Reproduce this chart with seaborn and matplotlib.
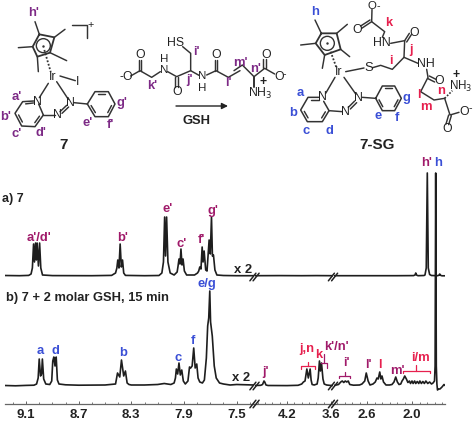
import numpy as np
import pandas as pd
import matplotlib
matplotlib.use("Agg")
import matplotlib.pyplot as plt
from matplotlib.ticker import FixedLocator, MultipleLocator, FixedFormatter
from matplotlib.patches import Circle
import seaborn as sns

sns.set_theme(style="white")
plt.rcParams["font.family"] = ["Liberation Sans", "DejaVu Sans"]

# ---------------- spectrum a) 7 : (ppm, intensity)
a1_ppm = [9.26, 9.15, 9.08, 9.062, 9.052, 9.043, 9.036, 9.028, 9.022, 9.016, 9.006, 8.997, 8.988, 8.975, 8.9, 8.6, 8.45, 8.42, 8.41, 8.403, 8.394, 8.385, 8.376, 8.367, 8.358, 8.345, 8.2, 8.09, 8.068, 8.056, 8.047, 8.04, 8.032, 8.022, 8.005, 7.975, 7.952, 7.945, 7.938, 7.93, 7.923, 7.915, 7.907, 7.897, 7.88, 7.82, 7.797, 7.788, 7.78, 7.771, 7.762, 7.755, 7.747, 7.735, 7.725, 7.709, 7.7, 7.691, 7.684, 7.676, 7.665, 7.65, 7.6, 7.5, 7.368]
a1_int = [0.5, 0.3, 0.6, 2, 8, 32, 14, 33, 16, 33, 10, 33, 8, 1, 0.4, 0.3, 0.6, 3, 8, 16, 8, 32, 9, 16, 3, 0.6, 0.3, 0.5, 3, 14, 59, 20, 59, 14, 3, 1, 4, 10, 17, 12, 27, 11, 17, 5, 1, 1, 3, 5, 9, 7, 29, 14, 25, 6, 5, 36, 22, 59, 20, 21, 6, 1, 0.5, 0.3, 0.3]
a2_ppm = [4.64, 4.3, 4.0, 3.8, 3.573]
a2_int = [0.3, 0.4, 0.3, 0.4, 0.3]
a3_ppm = [3.04, 2.6, 2.2, 1.98, 1.96, 1.95, 1.94, 1.92, 1.84, 1.827, 1.81, 1.796, 1.783, 1.765, 1.74, 1.66, 1.64, 1.63, 1.62, 1.6, 1.56]
a3_int = [0.3, 0.3, 0.3, 0.4, 1, 3, 1, 0.3, 0.5, 1, 8, 103, 8, 1.5, 0.5, 0.3, 0.8, 2, 0.7, 0.2, 0.2]

# ---------------- spectrum b) 7 + 2 molar GSH : (ppm, intensity)
b1_ppm = [9.26, 9.18, 9.1, 9.04, 9.02, 9.008, 9.0, 8.99, 8.982, 8.976, 8.966, 8.95, 8.92, 8.905, 8.897, 8.889, 8.88, 8.871, 8.862, 8.85, 8.8, 8.7, 8.5, 8.42, 8.405, 8.388, 8.375, 8.358, 8.345, 8.332, 8.318, 8.3, 8.2, 8.1, 8.05, 8.0, 7.975, 7.965, 7.958, 7.948, 7.938, 7.928, 7.917, 7.905, 7.89, 7.87, 7.858, 7.849, 7.838, 7.826, 7.815, 7.803, 7.793, 7.78, 7.76, 7.745, 7.73, 7.72, 7.712, 7.704, 7.698, 7.685, 7.67, 7.655, 7.63, 7.6, 7.55, 7.5, 7.368]
b1_int = [0.5, 0.2, 0.6, 0.8, 2, 8, 27, 10, 12, 27, 7, 2, 1.5, 5, 25, 29, 20, 29, 6, 2, 1.2, 0.8, 1, 2, 13, 9, 26, 10, 15, 3, 1.5, 1, 1, 1.5, 2.5, 1.5, 3, 8, 17, 12, 23, 11, 16, 5, 2, 5, 19, 18, 20, 38, 18, 22, 8, 4, 3, 6, 28, 60, 68, 95, 64, 50, 20, 8, 3, 2, 1, 1.5, 1]
b2_ppm = [4.64, 4.56, 4.535, 4.515, 4.505, 4.488, 4.46, 4.2, 4.05, 4.0, 3.977, 3.955, 3.93, 3.91, 3.885, 3.872, 3.858, 3.83, 3.79, 3.775, 3.758, 3.745, 3.73, 3.71, 3.693, 3.66, 3.6, 3.573]
b2_int = [0.5, 0.7, 1.5, 5, 4, 1, 0.5, 0.4, 0.7, 2, 4, 5, 17, 8, 17, 6, 1.5, 1, 2, 8, 25, 15, 23, 7, 2, 1, 0.5, 0.5]
b3_ppm = [3.04, 2.98, 2.95, 2.93, 2.91, 2.89, 2.87, 2.85, 2.83, 2.78, 2.7, 2.667, 2.63, 2.61, 2.585, 2.56, 2.52, 2.49, 2.467, 2.45, 2.43, 2.415, 2.40, 2.38, 2.347, 2.3, 2.267, 2.24, 2.217, 2.195, 2.173, 2.15, 2.133, 2.115, 2.097, 2.075, 2.055, 2.035, 2.02, 2.0, 1.985, 1.965, 1.95, 1.93, 1.91, 1.895, 1.875, 1.855, 1.835, 1.815, 1.79, 1.765, 1.74, 1.72, 1.70, 1.692, 1.684, 1.676, 1.668, 1.66, 1.645, 1.627, 1.6, 1.573, 1.56]
b3_int = [0.5, 1.5, 4, 5, 3.5, 5, 4, 5, 1.5, 0.8, 1, 2, 5, 13, 5, 1, 2, 4, 8, 7, 14, 7, 10, 4, 1, 1, 1.5, 4, 9, 4, 1.5, 2, 5, 7, 10, 7, 3.5, 5, 2.5, 5, 2.5, 5, 2.5, 4.5, 2.5, 5, 2.5, 4.5, 2.5, 5, 2.5, 4, 2, 3, 5, 20, 213, 20, 2, -4, -3, -3, -1, 1.5, 0.5]

a_offset = 110
segments = [
    (a1_ppm, a1_int, b1_ppm, b1_int, (5, 254), (9.26, 7.368)),
    (a2_ppm, a2_int, b2_ppm, b2_int, (255, 333), (4.638, 3.573)),
    (a3_ppm, a3_int, b3_ppm, b3_int, (334, 445), (3.04, 1.56)),
]
major_ticks = [[9.1, 8.7, 8.3, 7.9, 7.5], [4.2, 3.6], [2.6, 2.0]]
major_labels = [["9.1", "8.7", "8.3", "7.9", "7.5"], ["4.2", "3.6"], ["2.6", "2.0"]]

W, H = 474, 421
fig = plt.figure(figsize=(W / 100, H / 100), dpi=100, facecolor="white")
BASE = 404
TOP = 170
INK = "#1e1e1e"

for (ax_, ai_, bx_, bi_, (x0, x1), xl), mt, ml in zip(segments, major_ticks, major_labels):
    ax = fig.add_axes([x0 / W, 1 - BASE / H, (x1 - x0) / W, (BASE - TOP) / H])
    ax.patch.set_alpha(0)
    dfa = pd.DataFrame({"ppm": ax_, "i": np.array(ai_) + a_offset + 18})
    dfb = pd.DataFrame({"ppm": bx_, "i": np.array(bi_) + 18})
    for df in (dfa, dfb):
        sns.lineplot(data=df, x="ppm", y="i", ax=ax, color=INK, lw=1.2,
                     estimator=None, sort=False, legend=False)
    ax.set_xlim(*xl)
    ax.set_ylim(0, BASE - TOP)
    ax.set_xlabel("")
    ax.set_ylabel("")
    ax.set_yticks([])
    for s in ("top", "left", "right"):
        ax.spines[s].set_visible(False)
    ax.spines["bottom"].set_color("#666666")
    ax.spines["bottom"].set_linewidth(0.9)
    ax.xaxis.set_major_locator(FixedLocator(mt))
    ax.xaxis.set_major_formatter(FixedFormatter(ml))
    ax.xaxis.set_minor_locator(MultipleLocator(0.1))
    ax.tick_params(axis="x", which="major", direction="in", length=2.5, width=0.7,
                   color="#666666", pad=3.5, labelsize=9.5, labelcolor="#222222", bottom=True)
    ax.tick_params(axis="x", which="minor", direction="in", length=1.5, width=0.6,
                   color="#666666", bottom=True)
    for t in ax.get_xticklabels():
        t.set_fontweight("bold")

# ---------------- overlay: chemical structures and annotations
ov = fig.add_axes([0, 0, 1, 1], zorder=5)
ov.set_xlim(0, W)
ov.set_ylim(H, 0)
ov.axis("off")
ov.patch.set_alpha(0)

PUR = "#7d2a86"
MAG = "#a01a6a"
BLU = "#3a4fd6"
RED = "#e6204e"
BLK = "#222222"
GRY = "#333333"


def L(pts, c=GRY, lw=1.05, **k):
    xs, ys = zip(*pts)
    ov.plot(xs, ys, color=c, lw=lw, solid_capstyle="round", **k)


def T(x, y, s, c=BLK, size=8, w="normal"):
    ov.text(x, y, s, color=c, fontsize=size * 1.1, fontweight=w, ha="center", va="center")


def A(ox, oy, pts):
    return [(ox + p[0] / 3, oy + p[1] / 3) for p in pts]


def inner(ring, idx):
    """short inner double-bond lines of a six ring"""
    cx = sum(p[0] for p in ring) / len(ring)
    cy = sum(p[1] for p in ring) / len(ring)
    for i in idx:
        p, q = ring[i], ring[(i + 1) % len(ring)]
        a = (p[0] + (cx - p[0]) * .2 + (q[0] - p[0]) * .12, p[1] + (cy - p[1]) * .2 + (q[1] - p[1]) * .12)
        b = (q[0] + (cx - q[0]) * .2 + (p[0] - q[0]) * .12, q[1] + (cy - q[1]) * .2 + (p[1] - q[1]) * .12)
        L([a, b])


def cp(ox, verts, tips, centre, dash):
    v = A(ox, 0, verts)
    L(v + [v[0]], lw=1.3)
    for p, t in zip(v, A(ox, 0, tips)):
        L([p, t])
    c = A(ox, 0, [centre])[0]
    ov.add_patch(Circle(c, 7, fill=False, ec=GRY, lw=1.0))
    ov.plot(c[0], c[1], ".", color=GRY, ms=1.5)
    d = A(ox, 0, dash)
    L(d, lw=1.3, linestyle=(0, (1, 1)))


# --- complex 7
cp(0, [(118, 103), (163, 112), (150, 158), (112, 170), (98, 140)],
   [(105, 65), (195, 88), (200, 182), (115, 215), (55, 143)], (130, 137), [(133, 150), (152, 215)])
L(A(0, 0, [(215, 75), (260, 75), (260, 115)]))
T(272 / 3, 25, "+", size=7)
T(157 / 3, 232 / 3, "Ir", size=8)
L(A(0, 0, [(180, 228), (226, 242)]))
T(233 / 3, 247 / 3, "I", size=8)
py7 = A(0, 0, [(110, 300), (130, 345), (105, 380), (65, 378), (45, 340), (68, 305)])
L([py7[1], py7[2], py7[3], py7[4], py7[5], (py7[0][0] - 3, py7[0][1] + 1)], lw=1.1)
L([(py7[0][0] + 2, py7[0][1] + 4), py7[1]], lw=1.1)
inner(py7, [1, 3, 5])
T(112 / 3, 305 / 3, "N", size=8)
L(A(0, 0, [(145, 250), (118, 293)]))
L(A(0, 0, [(170, 245), (205, 298)]))
L(A(0, 0, [(130, 345), (164, 345)]))
T(173 / 3, 346 / 3, "N", size=8)
L(A(0, 0, [(180, 335), (200, 316)]))
L(A(0, 0, [(186, 340), (206, 321)]))
T(211 / 3, 310 / 3, "N", size=8)
L(A(0, 0, [(222, 308), (262, 312)]))
ph7 = A(0, 0, [(262, 312), (285, 275), (325, 275), (345, 312), (325, 350), (285, 350)])
L(ph7 + [ph7[0]], lw=1.1)
inner(ph7, [1, 3, 5])
for (cx, cy, s) in [(100, 40, "h'"), (50, 290, "a'"), (18, 350, "b'"), (50, 402, "c'"), (122, 398, "d'"),
                    (262, 370, "e'"), (330, 375, "f'"), (365, 310, "g'")]:
    T(cx / 3, cy / 3, s, PUR, 8.5, "bold")
T(190 / 3, 435 / 3, "7", BLK, 10, "bold")

# --- GSH
L(A(0, 0, [(392, 228), (420, 212), (455, 232), (481, 215)]))
L(A(0, 0, [(416, 212), (416, 180)]))
L(A(0, 0, [(424, 212), (424, 180)]))
T(420 / 3, 166 / 3, "O", size=8)
T(378 / 3, 232 / 3, "-O", size=8)
T(492 / 3, 176 / 3, "H", size=7.5)
T(492 / 3, 210 / 3, "N", size=7.5)
L(A(0, 0, [(503, 215), (530, 230), (572, 212), (572, 160), (548, 140)]))
L(A(0, 0, [(526, 232), (526, 262)]))
L(A(0, 0, [(534, 232), (534, 262)]))
T(533 / 3, 276 / 3, "O", size=8)
T(528 / 3, 130 / 3, "HS", size=8)
L(A(0, 0, [(572, 212), (597, 226)]))
T(608 / 3, 229 / 3, "N", size=7.5)
T(608 / 3, 263 / 3, "H", size=7.5)
L(A(0, 0, [(620, 225), (648, 212), (685, 232), (720, 212)]))
L(A(0, 0, [(644, 212), (644, 180)]))
L(A(0, 0, [(652, 212), (652, 180)]))
T(648 / 3, 166 / 3, "O", size=8)
L(A(234, 0, [(0, 212), (25, 195), (60, 230), (92, 205), (122, 222)]))
L(A(234, 0, [(60, 230), (60, 262)]), lw=1.4)
L(A(234, 0, [(88, 205), (88, 178)]))
L(A(234, 0, [(96, 205), (96, 178)]))
T(234 + 97 / 3, 165 / 3, "O", size=8)
T(234 + 135 / 3, 231 / 3, "O", size=8)
T(234 + 150 / 3, 222 / 3, "-", size=7)
T(234 + 78 / 3, 279 / 3, "NH$_3$", size=8)
T(234 + 86 / 3, 245 / 3, "+", size=8, w="bold")
for (cx, cy, s) in [(590, 155, "i'"), (570, 240, "j'"), (458, 258, "k'"), (685, 250, "l'")]:
    T(cx / 3, cy / 3, s, PUR, 8.5, "bold")
T(234 + 18 / 3, 190 / 3, "m'", PUR, 8.5, "bold")
T(234 + 65 / 3, 208 / 3, "n'", PUR, 8.5, "bold")
ov.annotate("", xy=(228, 106), xytext=(176, 106),
            arrowprops=dict(arrowstyle="-|>", color=BLK, lw=1.0, shrinkA=0, shrinkB=0, mutation_scale=9))
T(197, 120.5, "GSH", BLK, 8.5, "bold")

# --- 7-SG
cp(234, [(262, 100), (308, 100), (320, 148), (272, 165), (245, 130)],
   [(243, 60), (340, 73), (347, 170), (265, 205), (200, 135)], (280, 130), [(290, 155), (308, 205)])
T(234 + 314 / 3, 215 / 3, "Ir", size=8)
L(A(234, 0, [(335, 215), (390, 204)]))
T(234 + 403 / 3, 203 / 3, "S", size=8.5)
L(A(234, 0, [(416, 203), (440, 196), (475, 208), (510, 172), (552, 190)]))
T(234 + 577 / 3, 193 / 3, "NH", size=8)
L(A(234, 0, [(510, 172), (512, 122), (470, 130)]))
L(A(234, 0, [(512, 122), (526, 100)]))
L(A(234, 0, [(518, 126), (532, 104)]))
T(234 + 540 / 3, 99 / 3, "O", size=8)
T(234 + 443 / 3, 128 / 3, "HN", size=8)
L(A(234, 0, [(445, 112), (452, 95), (413, 65), (383, 85)]))
L(A(234, 0, [(408, 60), (380, 78)]))
L(A(234, 0, [(413, 65), (414, 28)]))
T(234 + 370 / 3, 90 / 3, "O", size=8)
T(234 + 415 / 3, 18 / 3, "O", size=7.5)
T(234 + 434 / 3, 18 / 3, "-", size=7)
L(A(234, 0, [(578, 208), (582, 232), (560, 275), (600, 300), (632, 295), (648, 345), (675, 337)]))
L(A(234, 0, [(586, 228), (606, 238)]))
L(A(234, 0, [(582, 236), (602, 246)]))
T(234 + 617 / 3, 243 / 3, "O", size=8)
L(A(234, 0, [(632, 295), (655, 272)]), lw=1.2, linestyle=(0, (1, 1)))
T(234 + 681 / 3, 260 / 3, "NH$_3$", size=7.6)
T(234 + 665 / 3, 225 / 3, "+", size=8, w="bold")
T(234 + 690 / 3, 335 / 3, "O", size=8)
T(234 + 708 / 3, 325 / 3, "-", size=7)
L(A(234, 0, [(644, 345), (636, 372)]))
L(A(234, 0, [(652, 347), (644, 374)]))
T(234 + 639 / 3, 386 / 3, "O", size=8)
py = A(234, 0, [(263, 292), (285, 332), (265, 365), (220, 365), (200, 330), (222, 292)])
L([py[1], py[2], py[3], py[4], py[5], (py[0][0] - 3, py[0][1])], lw=1.1)
L([(py[0][0] + 2, py[0][1] + 4), py[1]], lw=1.1)
inner(py, [1, 3, 5])
T(234 + 264 / 3, 292 / 3, "N", size=8)
L(A(234, 0, [(303, 232), (275, 280)]))
L(A(234, 0, [(330, 232), (366, 283)]))
L(A(234, 0, [(285, 332), (325, 335)]))
T(234 + 335 / 3, 335 / 3, "N", size=8)
L(A(234, 0, [(343, 322), (362, 303)]))
L(A(234, 0, [(349, 327), (368, 308)]))
T(234 + 372 / 3, 295 / 3, "N", size=8)
L(A(234, 0, [(385, 292), (425, 295)]))
ph = A(234, 0, [(425, 295), (445, 258), (482, 258), (502, 295), (482, 332), (445, 332)])
L(ph + [ph[0]], lw=1.1)
inner(ph, [1, 3, 5])
for (cx, cy, s) in [(242, 35, "h"), (198, 280, "a"), (178, 338, "b"), (215, 392, "c"), (285, 392, "d"),
                    (432, 348, "e"), (490, 355, "f"), (518, 295, "g")]:
    T(234 + cx / 3, cy / 3, s, BLU, 8.5, "bold")
for (cx, cy, s) in [(465, 70, "k"), (530, 150, "j"), (470, 183, "i"), (555, 285, "l"), (575, 320, "m"), (620, 273, "n")]:
    T(234 + cx / 3, cy / 3, s, RED, 8.5, "bold")
T(234 + 430 / 3, 435 / 3, "7-SG", BLK, 10, "bold")

# --- spectrum annotations
ov.text(2, 199, "a) 7", color=BLK, fontsize=9, fontweight="bold", va="center")
ov.text(6, 298, "b) 7 + 2 molar GSH, 15 min", color=BLK, fontsize=9.3, fontweight="bold", va="center")
T(243, 270, "x 2", BLK, 8.5, "bold")
T(241, 378, "x 2", BLK, 8.5, "bold")
for (x, y, s, c) in [(39, 238, "a'/d'", MAG), (123, 238, "b'", MAG), (168, 209, "e'", MAG), (182, 244, "c'", MAG),
                     (201, 240, "f'", MAG), (213, 211, "g'", MAG), (427, 163, "h'", MAG), (438, 163, "h", BLU),
                     (207, 284, "e/g", BLU), (40, 351, "a", BLU), (55, 351, "d", BLU), (123, 353, "b", BLU),
                     (178, 358, "c", BLU), (193, 341, "f", BLU), (266, 372, "j'", MAG), (307, 349, "j,n", RED),
                     (319, 355, "k", RED), (336, 347, "k'/n'", MAG), (346, 363, "i'", MAG), (368, 365, "l'", MAG),
                     (380, 365, "l", RED), (397, 371, "m'", MAG), (420, 358, "i/m", RED)]:
    T(x, y, s, c, 8.5, "bold")

ox, oy = 234, 220
for pts, c in [([(200, 447), (200, 437), (243, 437), (243, 447)], RED), ([(222, 437), (222, 425)], RED),
               ([(262, 430), (278, 430), (278, 445)], MAG), ([(270, 430), (270, 402)], MAG),
               ([(315, 475), (315, 468), (348, 468), (348, 475)], MAG), ([(332, 468), (332, 456)], MAG),
               ([(508, 460), (508, 452), (588, 452), (588, 460)], RED), ([(547, 452), (547, 435)], RED)]:
    L(A(ox, oy, pts), c=c, lw=0.9)

# axis breaks
for bx in (254.5, 333):
    for by in (277, 386, 404):
        for dx in (-1.6, 1.6):
            ov.plot([bx + dx - 3, bx + dx + 3], [by + 3.8, by - 3.8], color=BLK, lw=1.1)

fig.savefig("out.png", dpi=100, facecolor="white")
